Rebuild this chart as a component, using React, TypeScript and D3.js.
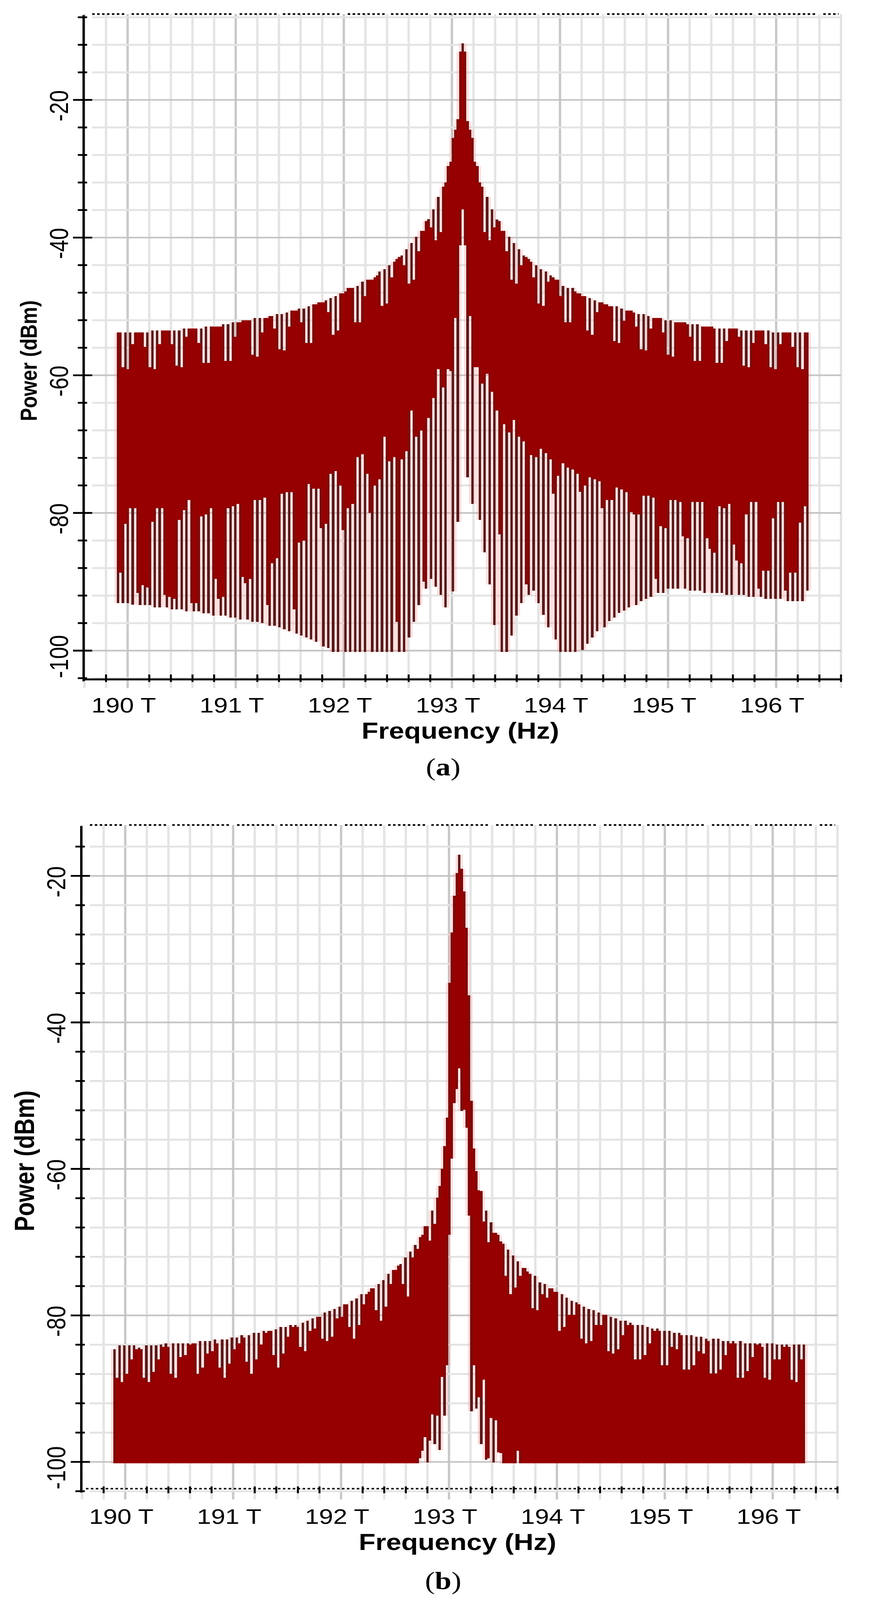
import * as d3 from 'd3'

// spectrum (a): one entry per drawn column, top and bottom of the column in dBm
const aHigh = [
  -53.8,-53.8,-58.8,-53.8,-59.1,-53.8,-55.5,-53.8,-53.8,-53.8,
  -53.8,-55.9,-53.8,-58.8,-53.5,-59.1,-53.5,-55.5,-53.5,-53.5,
  -53.5,-53.5,-55.5,-53.5,-58.6,-53.5,-58.8,-53.2,-54.4,-53.2,
  -53.2,-53.2,-53.2,-55.3,-53.2,-58.2,-52.9,-58.2,-52.9,-52.9,
  -52.9,-52.9,-52.9,-52.6,-57.9,-52.6,-57.9,-52.3,-54.4,-52.3,
  -52.3,-52,-52,-52,-52,-57,-51.7,-57.3,-51.7,-53.8,
  -51.7,-51.7,-51.4,-51.4,-53.2,-51.1,-56.2,-51.1,-56.4,-50.9,
  -52.9,-50.6,-50.6,-50.6,-50.3,-52.3,-50.3,-55.3,-50,-55.3,
  -49.7,-49.7,-49.4,-49.4,-49.4,-49.1,-50.8,-48.8,-54.1,-48.5,
  -53.5,-48.1,-48.1,-47.8,-47.3,-47.3,-47.3,-52.3,-47,-52.3,
  -46.4,-48.5,-46.1,-46.1,-46.1,-45.8,-45.5,-44.9,-49.9,-44.6,
  -49.6,-44,-45.8,-43.5,-43.1,-42.8,-42.6,-44,-41.7,-46.7,
  -40.8,-46.1,-39.9,-42,-39,-39,-37.6,-37.3,-38.5,-35.9,
  -40.4,-34.1,-39.2,-32.6,-32,-29.6,-29,-25.5,-24.3,-22.8,
  -13,-11.8,-13,-23.1,-24.3,-25.5,-29,-29.6,-32,-32.6,
  -39.2,-34.1,-40.4,-35.9,-38.5,-37.4,-37.6,-39,-39,-42,
  -39.9,-46.1,-40.8,-46.7,-41.7,-44,-42.6,-42.8,-43.1,-43.5,
  -45.8,-44,-49.6,-44.6,-49.9,-44.9,-46.4,-45.5,-45.8,-46.1,
  -46.1,-48.5,-47,-52.3,-47.3,-52.3,-47.3,-47.8,-48.1,-48.1,
  -48.5,-48.5,-53.5,-48.8,-54.1,-49.1,-50.8,-49.4,-49.4,-49.7,
  -49.7,-50,-50,-55,-50,-55.3,-50.3,-52.1,-50.6,-50.6,
  -50.6,-50.9,-52.9,-51.1,-56.2,-51.1,-56.4,-51.4,-53.2,-51.7,
  -51.7,-51.7,-51.7,-53.8,-52,-57,-52,-57.3,-52.3,-52.3,
  -52.3,-52.3,-52.3,-52.6,-54.4,-52.6,-57.9,-52.6,-57.9,-52.9,
  -52.9,-52.9,-52.9,-52.9,-53.2,-58.2,-53.2,-58.2,-53.2,-55,
  -53.2,-53.2,-53.2,-53.2,-54.4,-53.5,-58.6,-53.5,-58.8,-53.5,
  -55.3,-53.5,-53.5,-53.5,-53.5,-55.5,-53.5,-58.8,-53.8,-59.1,
  -53.8,-55.5,-53.8,-53.8,-53.8,-53.8,-55.9,-53.8,-58.8,-53.8,
  -59.1,-53.8,-53.8,
]

const aLow = [
  -93.1,-88.7,-93.1,-81.6,-93.1,-79.3,-93.3,-79.3,-91.6,-93.4,
  -90.5,-93.4,-90.8,-93.4,-81.3,-93.7,-79.3,-93.7,-79.3,-91.9,
  -93.7,-92.2,-94,-92.5,-94,-81,-94,-79.6,-94.3,-78.1,
  -93.1,-94.3,-93.1,-94.3,-80.5,-94.6,-80.2,-94.6,-79.3,-94.9,
  -89.6,-92.5,-94.9,-92.2,-94.9,-79.3,-95.2,-79,-95.2,-78.7,
  -95.5,-89.3,-90.2,-95.5,-89.6,-95.8,-78.1,-95.8,-78.1,-96,
  -77.8,-93.4,-96.4,-87.3,-96.4,-86.6,-96.6,-77.2,-96.9,-77,
  -97.2,-77,-94,-97.5,-84.3,-97.8,-84,-98.1,-75.8,-98.4,
  -76.5,-98.7,-76.5,-82.2,-99.4,-81.6,-99.6,-74.3,-100.2,-73.9,
  -100.2,-76,-82.5,-100.2,-79.3,-100.2,-78.7,-100.2,-71.9,-100.2,
  -71.5,-100.2,-74.3,-80,-100.2,-76,-100.2,-75.1,-100.2,-68.9,
  -100.2,-72.5,-100.2,-71.9,-95.8,-100.2,-72.2,-100.2,-71,-98.1,
  -65.1,-95.8,-68.9,-93.4,-68,-90,-91,-66.2,-89.6,-63.3,
  -90.7,-59.1,-91.9,-61.8,-93.7,-59.1,-59.4,-91.4,-51.7,-81.3,
  -41.1,-35.9,-41.1,-74.8,-51.4,-78.7,-58.8,-58.8,-81,-61.2,
  -85.7,-59.8,-90.4,-62.4,-96.3,-65.1,-83.1,-100.2,-67.1,-100.2,
  -68.3,-97.8,-66.5,-94.9,-68.9,-93.1,-69.6,-90.4,-91.9,-71.6,
  -91.3,-71.9,-93.1,-70.7,-94.8,-71.3,-96.6,-72.2,-77.2,-98.4,
  -74.6,-100.2,-72.8,-100.2,-73.4,-100.2,-73.7,-100.2,-74.3,-76.9,
  -99.9,-76,-99,-74.8,-98.1,-75.1,-97.2,-75.4,-79.3,-96.6,
  -78.1,-95.7,-78.1,-95.2,-76.3,-94.5,-76.6,-94.2,-77,-93.7,
  -79.9,-80.2,-93.4,-80.2,-92.8,-77.5,-92.5,-77.5,-92.2,-77.8,
  -89.6,-91.6,-81.9,-91.6,-82.2,-91,-78.1,-91,-78.1,-91,
  -78.4,-83.4,-91,-83.7,-91.3,-78.4,-91.3,-78.4,-91.3,-78.4,
  -91.6,-83.7,-85.2,-91.6,-85.8,-91.6,-79,-91.6,-79.3,-91.9,
  -78.7,-91.9,-84.6,-86.9,-91.9,-87.3,-91.9,-80.2,-92.2,-78.4,
  -92.2,-78.4,-91,-92.2,-88.4,-92.5,-88.4,-92.5,-80.8,-92.5,
  -78.4,-92.5,-78.4,-91.3,-92.8,-88.7,-92.8,-88.7,-92.8,-81.4,
  -92.8,-79,-91.3,
]

// spectrum (b)
const bHigh = [
  -84.6,-88.5,-84.1,-89.1,-84.1,-88,-84.1,-86,-84.1,-84.6,
  -84.4,-84.6,-88.5,-84.1,-89.1,-84.1,-87.7,-84.1,-86,-84,
  -84.3,-83.8,-84.3,-88,-83.8,-88.5,-83.8,-85.7,-83.8,-85.4,
  -83.8,-84,-83.8,-83.8,-88,-83.5,-87.1,-83.5,-85.2,-83.5,
  -84.9,-83.3,-83.8,-87.1,-83.3,-88.5,-83.3,-86.6,-83,-84.6,
  -83,-83.8,-82.7,-83,-86.3,-82.7,-88,-82.4,-86,-82.4,
  -84,-82.1,-82.4,-82.1,-82.1,-85.4,-81.9,-87.1,-81.6,-85.2,
  -81.6,-82.9,-81.3,-81.6,-81.3,-81.6,-84.3,-81,-84.9,-80.7,
  -82.1,-80.4,-81.8,-80.2,-80.2,-83.2,-79.6,-83.5,-79.4,-82.9,
  -79.1,-80.4,-78.8,-80.2,-78.5,-78.5,-81.6,-78,-83.2,-77.7,
  -81.3,-77.1,-78.5,-77.1,-76.8,-76.3,-76.3,-79.3,-75.7,-80.7,
  -75.2,-78.8,-74.3,-75.7,-73.8,-73.8,-73.2,-73,-75.7,-72.1,
  -77.4,-71.3,-72.1,-70.4,-70.9,-69.3,-69,-67.8,-67.8,-69.8,
  -65.7,-67.5,-63.9,-62.3,-60,-56.9,-53,-34.6,-27.7,-22.7,
  -19.6,-17.1,-19.05,-22.1,-27.1,-36.3,-50.7,-57.2,-60.3,-62.9,
  -63,-67.2,-65.7,-70,-67.3,-68.7,-68.7,-69,-69.9,-70.2,
  -74.6,-71,-77.1,-71.8,-76.2,-72.6,-74.6,-73.5,-73.5,-74,
  -74.3,-79,-74.6,-79.3,-75.5,-77.1,-75.7,-77.6,-76.3,-76.3,
  -76.8,-76.8,-82.1,-77.1,-81.6,-77.6,-79.9,-78,-79.9,-78.2,
  -78.5,-83.2,-78.8,-83.8,-79.1,-83.5,-79.3,-81.3,-79.6,-81.3,
  -79.9,-79.9,-84.9,-80.2,-85.2,-80.4,-84.6,-80.7,-82.7,-80.7,
  -81.3,-81,-81.3,-86,-81.3,-86,-81.3,-85.4,-81.6,-83.8,
  -81.8,-82.1,-81.8,-82.1,-86.8,-82.1,-86.8,-82.1,-84.3,-82.4,
  -84.6,-82.4,-82.7,-87.4,-82.7,-87.4,-82.7,-86.8,-82.9,-84.9,
  -82.9,-85.2,-83.2,-83.5,-87.9,-83.2,-87.9,-83.2,-87.4,-83.5,
  -85.4,-83.5,-83.8,-83.5,-83.8,-88.5,-83.5,-88.5,-83.8,-87.6,
  -83.8,-85.7,-83.8,-84,-83.8,-84.3,-88.5,-83.8,-88.8,-83.8,
  -86,-84,-86,-84,-84.3,-84,-84.3,-88.8,-84,-89.1,
  -84,-86,-84,
]

// (b) sits on the -100 floor everywhere except around the carrier
const bFloor = -100.2
const bCentreStart = 124
const bLowCentre = [
  -100.2,-99.5,-98.5,-96.6,-100.1,-97.1,-93.5,-97.6,-93.7,-98.4,
  -88.4,-93.7,-86.8,-69,-58.6,-51,-49.1,-46.3,-52.1,-51.9,
  -54.4,-66.4,-93.1,-86.8,-92.7,-91.2,-97.6,-88.8,-99.7,-99.5,
  -94,-100.1,-94.3,-98.7,-98.8,-100.2,-100.2,-100.2,-100.2,-100.2,
  -100.2,-98.5,
]
const bLow = bHigh.map((_, i) => bLowCentre[i - bCentreStart] ?? bFloor)

const freqTicks = [190, 191, 192, 193, 194, 195, 196]
const dbLabels = [-20, -40, -60, -80, -100]
const dotGaps = [190, 190.4, 191, 191.4, 192, 192.4, 192.8, 193.4, 193.8, 194.4, 194.8, 195.4, 195.8, 196.4]

const RED = '#960000'
const RED_EDGE = '#7c0b0b'
const RED_LONE = '#561b1b'
const FONT = '"Liberation Sans", Arial, sans-serif'

const PAGE_W = 2239
const PAGE_H = 4901

interface PanelProps {
  high: number[]
  low: number[]
  xRange: [number, number]
  yRange: [number, number]
  firstFreq: number
  lastFreq: number
  axisX: number
  axisTop: number
  axisBottom: number
  dotsY: number
  topDb: number
  tickBase: number
  freqBase: number
  powerY: number
  powerSize: number
  solidAxis: boolean
}

// splits a column where its neighbours start/stop, so lone stems can go darker
function columnSegments(high: number[], low: number[], k: number) {
  const pts = [high[k], low[k]]
  for (const n of [k - 1, k + 1]) {
    if (n < 0 || n >= high.length) continue
    for (const v of [high[n], low[n]]) {
      if (v < high[k] && v > low[k]) pts.push(v)
    }
  }
  pts.sort((p, q) => q - p)
  const segs: { top: number; bottom: number; cover: number }[] = []
  for (let i = 0; i < pts.length - 1; i++) {
    if (pts[i] === pts[i + 1]) continue
    const mid = (pts[i] + pts[i + 1]) / 2
    let cover = 0
    for (const n of [k - 1, k + 1]) {
      if (n >= 0 && n < high.length && high[n] >= mid && low[n] <= mid) cover++
    }
    segs.push({ top: pts[i], bottom: pts[i + 1], cover })
  }
  return segs
}

function Panel(p: PanelProps) {
  const x = d3.scaleLinear().domain([189.6, 196.6]).range(p.xRange)
  const y = d3.scaleLinear().domain([-20, -100]).range(p.yRange)
  const cols = d3
    .scaleBand<number>()
    .domain(d3.range(p.high.length))
    .range([x(p.firstFreq), x(p.lastFreq)])
  const w = cols.bandwidth()

  const xGrid = d3.range(0, 36).map((i) => +(189.6 + i * 0.2).toFixed(1))
  const yGrid = d3.range(-104, p.topDb + 1, 4)
  const gridLeft = p.axisX + 22
  const gridBottom = p.axisBottom + 27

  // dotted rows break at a few of the grid positions
  const dotStops = [p.axisX + 12, ...dotGaps.map((f) => x(f)), p.xRange[1]]
  const topDots = d3.pairs(dotStops)

  const bottomPlain = p.axisBottom

  return (
    <g>
      {xGrid.map((f) => (
        <line
          key={f}
          x1={x(f)}
          x2={x(f)}
          y1={p.dotsY}
          y2={gridBottom}
          stroke={Number.isInteger(f) ? '#c8c8c8' : '#e4e4e4'}
          strokeWidth={6}
        />
      ))}
      {yGrid.map((v) => (
        <line
          key={v}
          x1={gridLeft}
          x2={p.xRange[1]}
          y1={y(v)}
          y2={y(v)}
          stroke={v % 20 === 0 ? '#c4c4c4' : '#e4e4e4'}
          strokeWidth={v % 20 === 0 ? 5 : 6}
        />
      ))}

      {/* pink ringing around the stems */}
      <g fill="#ff8f8f" opacity={0.28}>
        {p.high.map((h, k) => (
          <rect
            key={k}
            x={(cols(k) as number) - w}
            width={w * 3}
            y={y(h)}
            height={y(p.low[k]) - y(h)}
          />
        ))}
      </g>

      <g shapeRendering="crispEdges">
        {p.high.map((_, k) =>
          columnSegments(p.high, p.low, k).map((s, i) => (
            <rect
              key={`${k}-${i}`}
              x={cols(k)}
              width={w}
              y={y(s.top)}
              height={y(s.bottom) - y(s.top)}
              fill={s.cover === 2 ? RED : s.cover === 1 ? RED_EDGE : RED_LONE}
            />
          )),
        )}
      </g>

      {topDots.map(([a, b]) => (
        <line
          key={a}
          x1={a + 10}
          x2={b - 6}
          y1={p.dotsY}
          y2={p.dotsY}
          stroke="#000"
          strokeWidth={5.5}
          strokeDasharray="6.3 6.3"
        />
      ))}

      {/* y axis */}
      <line x1={p.axisX} x2={p.axisX} y1={p.axisTop} y2={p.axisBottom + 6} stroke="#000" strokeWidth={6} />
      {yGrid.map((v) => (
        <line
          key={v}
          x1={v % 20 === 0 ? p.axisX - 27 : p.axisX - 15}
          x2={v % 20 === 0 ? p.axisX + 22 : p.axisX + 9}
          y1={y(v)}
          y2={y(v)}
          stroke="#000"
          strokeWidth={5.5}
        />
      ))}
      {dbLabels.map((v) => (
        <text
          key={v}
          transform={`translate(${p.tickBase},${y(v) + 18}) rotate(-90)`}
          textAnchor="middle"
          fontFamily={FONT}
          fontSize={66}
        >
          {v}
        </text>
      ))}
      <text
        transform={`translate(${p.tickBase - 80},${p.powerY}) rotate(-90)`}
        textAnchor="middle"
        fontFamily={FONT}
        fontSize={p.powerSize}
        fontWeight="bold"
      >
        Power (dBm)
      </text>

      {/* x axis */}
      {p.solidAxis ? (
        <line x1={p.axisX} x2={p.xRange[1] + 3} y1={bottomPlain} y2={bottomPlain} stroke="#000" strokeWidth={6} />
      ) : (
        <line
          x1={p.axisX + 12}
          x2={p.xRange[1]}
          y1={bottomPlain - 6}
          y2={bottomPlain - 6}
          stroke="#000"
          strokeWidth={5}
          strokeDasharray="6.3 6.3"
        />
      )}
      {xGrid
        .filter((f) => !Number.isInteger(f) && f > 189.7)
        .map((f) => (
          <line
            key={f}
            x1={x(f)}
            x2={x(f)}
            y1={p.solidAxis ? bottomPlain - 15 : bottomPlain - 13}
            y2={bottomPlain + 8}
            stroke="#000"
            strokeWidth={5}
          />
        ))}
      {freqTicks.map((f) => (
        <text key={f} x={x(f) - 10} y={p.freqBase} textAnchor="middle" fontFamily={FONT} fontSize={65}>
          {f} T
        </text>
      ))}
      <text
        x={(x(193) + x(193.1)) / 2 + 8}
        y={p.freqBase + 80}
        textAnchor="middle"
        fontFamily={FONT}
        fontSize={70}
        fontWeight="bold"
      >
        Frequency (Hz)
      </text>
    </g>
  )
}

function Caption({ x, y, letter }: { x: number; y: number; letter: string }) {
  return (
    <text x={x} y={y} textAnchor="middle" fontFamily='"Liberation Serif", serif' fontSize={76}>
      (<tspan fontWeight="bold">{letter}</tspan>)
    </text>
  )
}

export default function App() {
  // the browser window can be shorter than the page, so squeeze to what is visible
  const shownH = Math.min(window.innerHeight || PAGE_H, PAGE_H)
  return (
    <div style={{ width: PAGE_W, height: shownH, overflow: 'hidden' }}>
      <style>{'html,body{margin:0;padding:0;background:#fff}'}</style>
      <svg
        width={PAGE_W}
        height={shownH}
        viewBox={`0 0 ${PAGE_W} ${PAGE_H}`}
        preserveAspectRatio="none"
        style={{ display: 'block' }}
      >
        <Panel
          high={aHigh}
          low={aLow}
          xRange={[216, 2152]}
          yRange={[306, 1993]}
          firstFreq={189.9}
          lastFreq={196.3}
          axisX={214}
          axisTop={46}
          axisBottom={2081}
          dotsY={43}
          topDb={-8}
          tickBase={174}
          freqBase={2183}
          powerY={1105}
          powerSize={60}
          solidAxis
        />
        <Caption x={1134} y={2375} letter="a" />
        <Panel
          high={bHigh}
          low={bLow}
          xRange={[210, 2143]}
          yRange={[2683, 4478]}
          firstFreq={189.89}
          lastFreq={196.3}
          axisX={208}
          axisTop={2530}
          axisBottom={4566}
          dotsY={2527}
          topDb={-16}
          tickBase={167}
          freqBase={4668}
          powerY={3556}
          powerSize={70}
          solidAxis={false}
        />
        <Caption x={1134} y={4868} letter="b" />
      </svg>
    </div>
  )
}
